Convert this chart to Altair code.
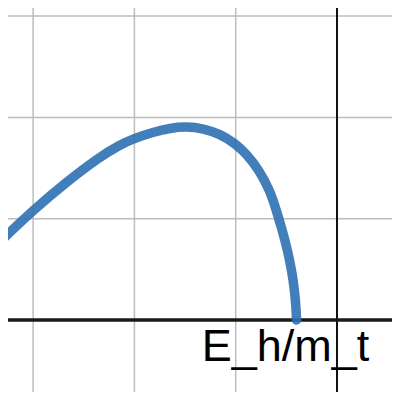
import altair as alt
import pandas as pd

# curve (grid units)
curve_x = [-3.40, -3.327, -2.998, -2.668, -2.340, -2.142, -2.011, -1.813, -1.648, -1.484, -1.320, -1.155, -1.007, -0.889, -0.773, -0.664, -0.600, -0.541, -0.489, -0.448, -0.419, -0.403, -0.400]
curve_y = [0.70, 0.773, 1.086, 1.365, 1.612, 1.730, 1.790, 1.855, 1.895, 1.910, 1.890, 1.836, 1.744, 1.635, 1.484, 1.283, 1.086, 0.889, 0.691, 0.494, 0.296, 0.099, 0.0]

grid_x = [-3, -2, -1]
grid_y = [1, 2, 3]
axis_x = [0]
axis_y = [0]

label_text = ["E_h/m_t"]
label_x = [-0.400]
label_y = [0.0]

X_DOMAIN = [-3.248, 0.543]
Y_DOMAIN = [-0.711, 3.080]

xs = alt.Scale(domain=X_DOMAIN, nice=False, zero=False)
ys = alt.Scale(domain=Y_DOMAIN, nice=False, zero=False)

df_curve = pd.DataFrame({"x": curve_x, "y": curve_y, "o": list(range(len(curve_x)))})
df_gx = pd.DataFrame({"x": grid_x})
df_gy = pd.DataFrame({"y": grid_y})
df_ax = pd.DataFrame({"x": axis_x})
df_ay = pd.DataFrame({"y": axis_y})
df_lab = pd.DataFrame({"x": label_x, "y": label_y, "t": label_text})

gx = alt.Chart(df_gx).mark_rule(color="#bdbdbd", strokeWidth=1.5).encode(
    x=alt.X("x:Q", scale=xs, axis=None))
gy = alt.Chart(df_gy).mark_rule(color="#bdbdbd", strokeWidth=1.5).encode(
    y=alt.Y("y:Q", scale=ys, axis=None))
ax = alt.Chart(df_ax).mark_rule(color="#111111", strokeWidth=2).encode(
    x=alt.X("x:Q", scale=xs, axis=None))
ay = alt.Chart(df_ay).mark_rule(color="#1a1a1a", strokeWidth=3.5).encode(
    y=alt.Y("y:Q", scale=ys, axis=None))

line = alt.Chart(df_curve).mark_line(
    color="#2d70b3", opacity=0.9, strokeWidth=9.5, strokeCap="round",
    strokeJoin="round", interpolate="basis", clip=True
).encode(
    x=alt.X("x:Q", scale=xs, axis=None),
    y=alt.Y("y:Q", scale=ys, axis=None),
    order="o:Q",
)

label = alt.Chart(df_lab).mark_text(
    font="Liberation Sans", fontSize=45, color="#000000",
    align="center", baseline="alphabetic", dx=-11, dy=41
).encode(
    x=alt.X("x:Q", scale=xs, axis=None),
    y=alt.Y("y:Q", scale=ys, axis=None),
    text="t:N",
)

chart = alt.layer(gx, gy, ax, ay, line, label).properties(
    width=384, height=384,
    autosize=alt.AutoSizeParams(type="none"),
    padding=0,
).configure_view(stroke=None)

chart.save("out.html", embed_options={"renderer": "svg", "actions": False})
